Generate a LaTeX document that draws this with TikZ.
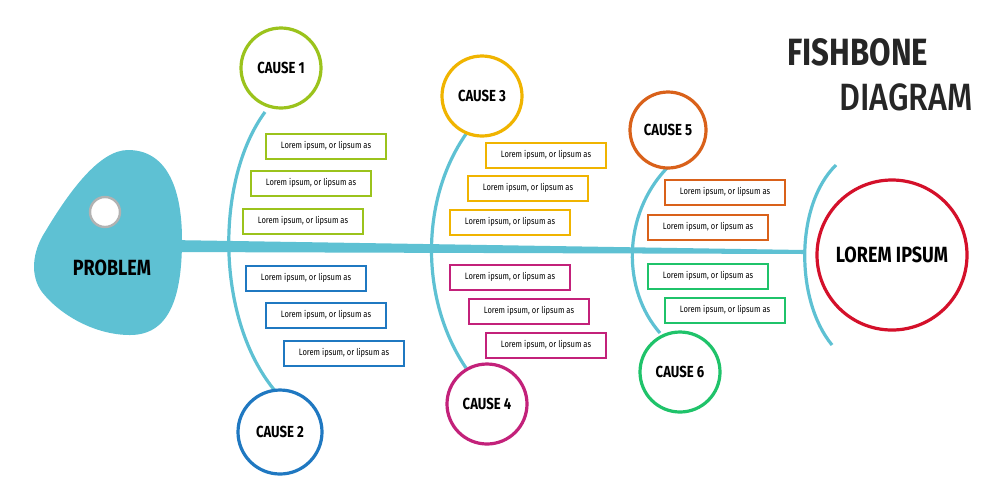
\documentclass[tikz,border=0pt]{standalone}
\usepackage{fontspec}
\setmainfont{Fira Sans}
\newfontfamily\cond[FakeStretch=0.82]{Fira Sans}
\newfontfamily\condm[FakeStretch=0.85]{Fira Sans Medium}
\definecolor{teal}{HTML}{5EC1D3}
\definecolor{cA}{HTML}{9BC31C}
\definecolor{cB}{HTML}{1F78C1}
\definecolor{cC}{HTML}{F0B400}
\definecolor{cD}{HTML}{C3217A}
\definecolor{cE}{HTML}{D9611A}
\definecolor{cF}{HTML}{1FC36A}
\definecolor{cR}{HTML}{D4102A}
\tikzset{
 cause/.style={circle,draw=#1,line width=1.6pt,fill=white,minimum size=40pt,inner sep=0,font=\cond\bfseries\fontsize{8}{9}\selectfont},
 tbox/.style={draw=#1,line width=1pt,fill=white,minimum width=60,minimum height=12.5,inner sep=0,font=\cond\fontsize{4.6}{5}\selectfont},
 bone/.style={draw=teal,line width=1.6pt},
}
\begin{document}
\begin{tikzpicture}[x=0.5pt,y=-0.5pt]
\useasboundingbox[fill=white] (0,0) rectangle (1000,500);
% spine
\fill[teal] (170,240) -- (805,250) -- (805,254) -- (170,252) -- cycle;
% head
\fill[teal] (45,232) .. controls (70,190) and (100,150) .. (128,150) .. controls (165,150) and (182,185) .. (182,240) .. controls (182,300) and (168,335) .. (130,335) .. controls (95,335) and (60,315) .. (42,292) .. controls (30,276) and (32,252) .. (45,232) -- cycle;
\node[circle,draw=gray!60,line width=1.2pt,fill=white,minimum size=15pt,inner sep=0] (eye) at (105,212) {};
\node[font=\cond\bfseries\fontsize{11}{12}\selectfont] (prob) at (112,268) {PROBLEM};
% bones
\draw[bone] (265,112) .. controls (215,180) and (215,320) .. (276,392);
\draw[bone] (466,134) .. controls (420,200) and (420,300) .. (466,368);
\draw[bone] (667,168) .. controls (622,215) and (622,290) .. (660,333);
\draw[bone] (836,165) .. controls (795,205) and (795,300) .. (832,345);
% circles
\node[cause=cA] (c1) at (281,68) {CAUSE 1};
\node[cause=cB,minimum size=42pt] (c2) at (280,432) {CAUSE 2};
\node[cause=cC] (c3) at (482,96) {CAUSE 3};
\node[cause=cD] (c4) at (487,404) {CAUSE 4};
\node[cause=cE,minimum size=38pt] (c5) at (668,130) {CAUSE 5};
\node[cause=cF] (c6) at (680,372) {CAUSE 6};
\node[cause=cR,minimum size=75pt,font=\cond\bfseries\fontsize{11}{12}\selectfont] (lp) at (892,255) {LOREM IPSUM};
% boxes
\def\lt{Lorem ipsum, or lipsum as}
\node[tbox=cA] (a1) at (326,146) {\lt};
\node[tbox=cA] (a2) at (311,183) {\lt};
\node[tbox=cA] (a3) at (303,221) {\lt};
\node[tbox=cB] (b1) at (306,278) {\lt};
\node[tbox=cB] (b2) at (326,315) {\lt};
\node[tbox=cB] (b3) at (344,353) {\lt};
\node[tbox=cC] (y1) at (546,155) {\lt};
\node[tbox=cC] (y2) at (528,188) {\lt};
\node[tbox=cC] (y3) at (510,222) {\lt};
\node[tbox=cD] (m1) at (510,277) {\lt};
\node[tbox=cD] (m2) at (529,311) {\lt};
\node[tbox=cD] (m3) at (546,345) {\lt};
\node[tbox=cE] (o1) at (725,192) {\lt};
\node[tbox=cE] (o2) at (708,227) {\lt};
\node[tbox=cF] (g1) at (708,276) {\lt};
\node[tbox=cF] (g2) at (725,310) {\lt};
% title
\node[font=\cond\bfseries\fontsize{19}{20}\selectfont,text=black!85] (t1) at (858,52) {FISHBONE};
\node[font=\condm\fontsize{19}{20}\selectfont,text=black!85] (t2) at (906,97) {DIAGRAM};
\end{tikzpicture}
\end{document}
